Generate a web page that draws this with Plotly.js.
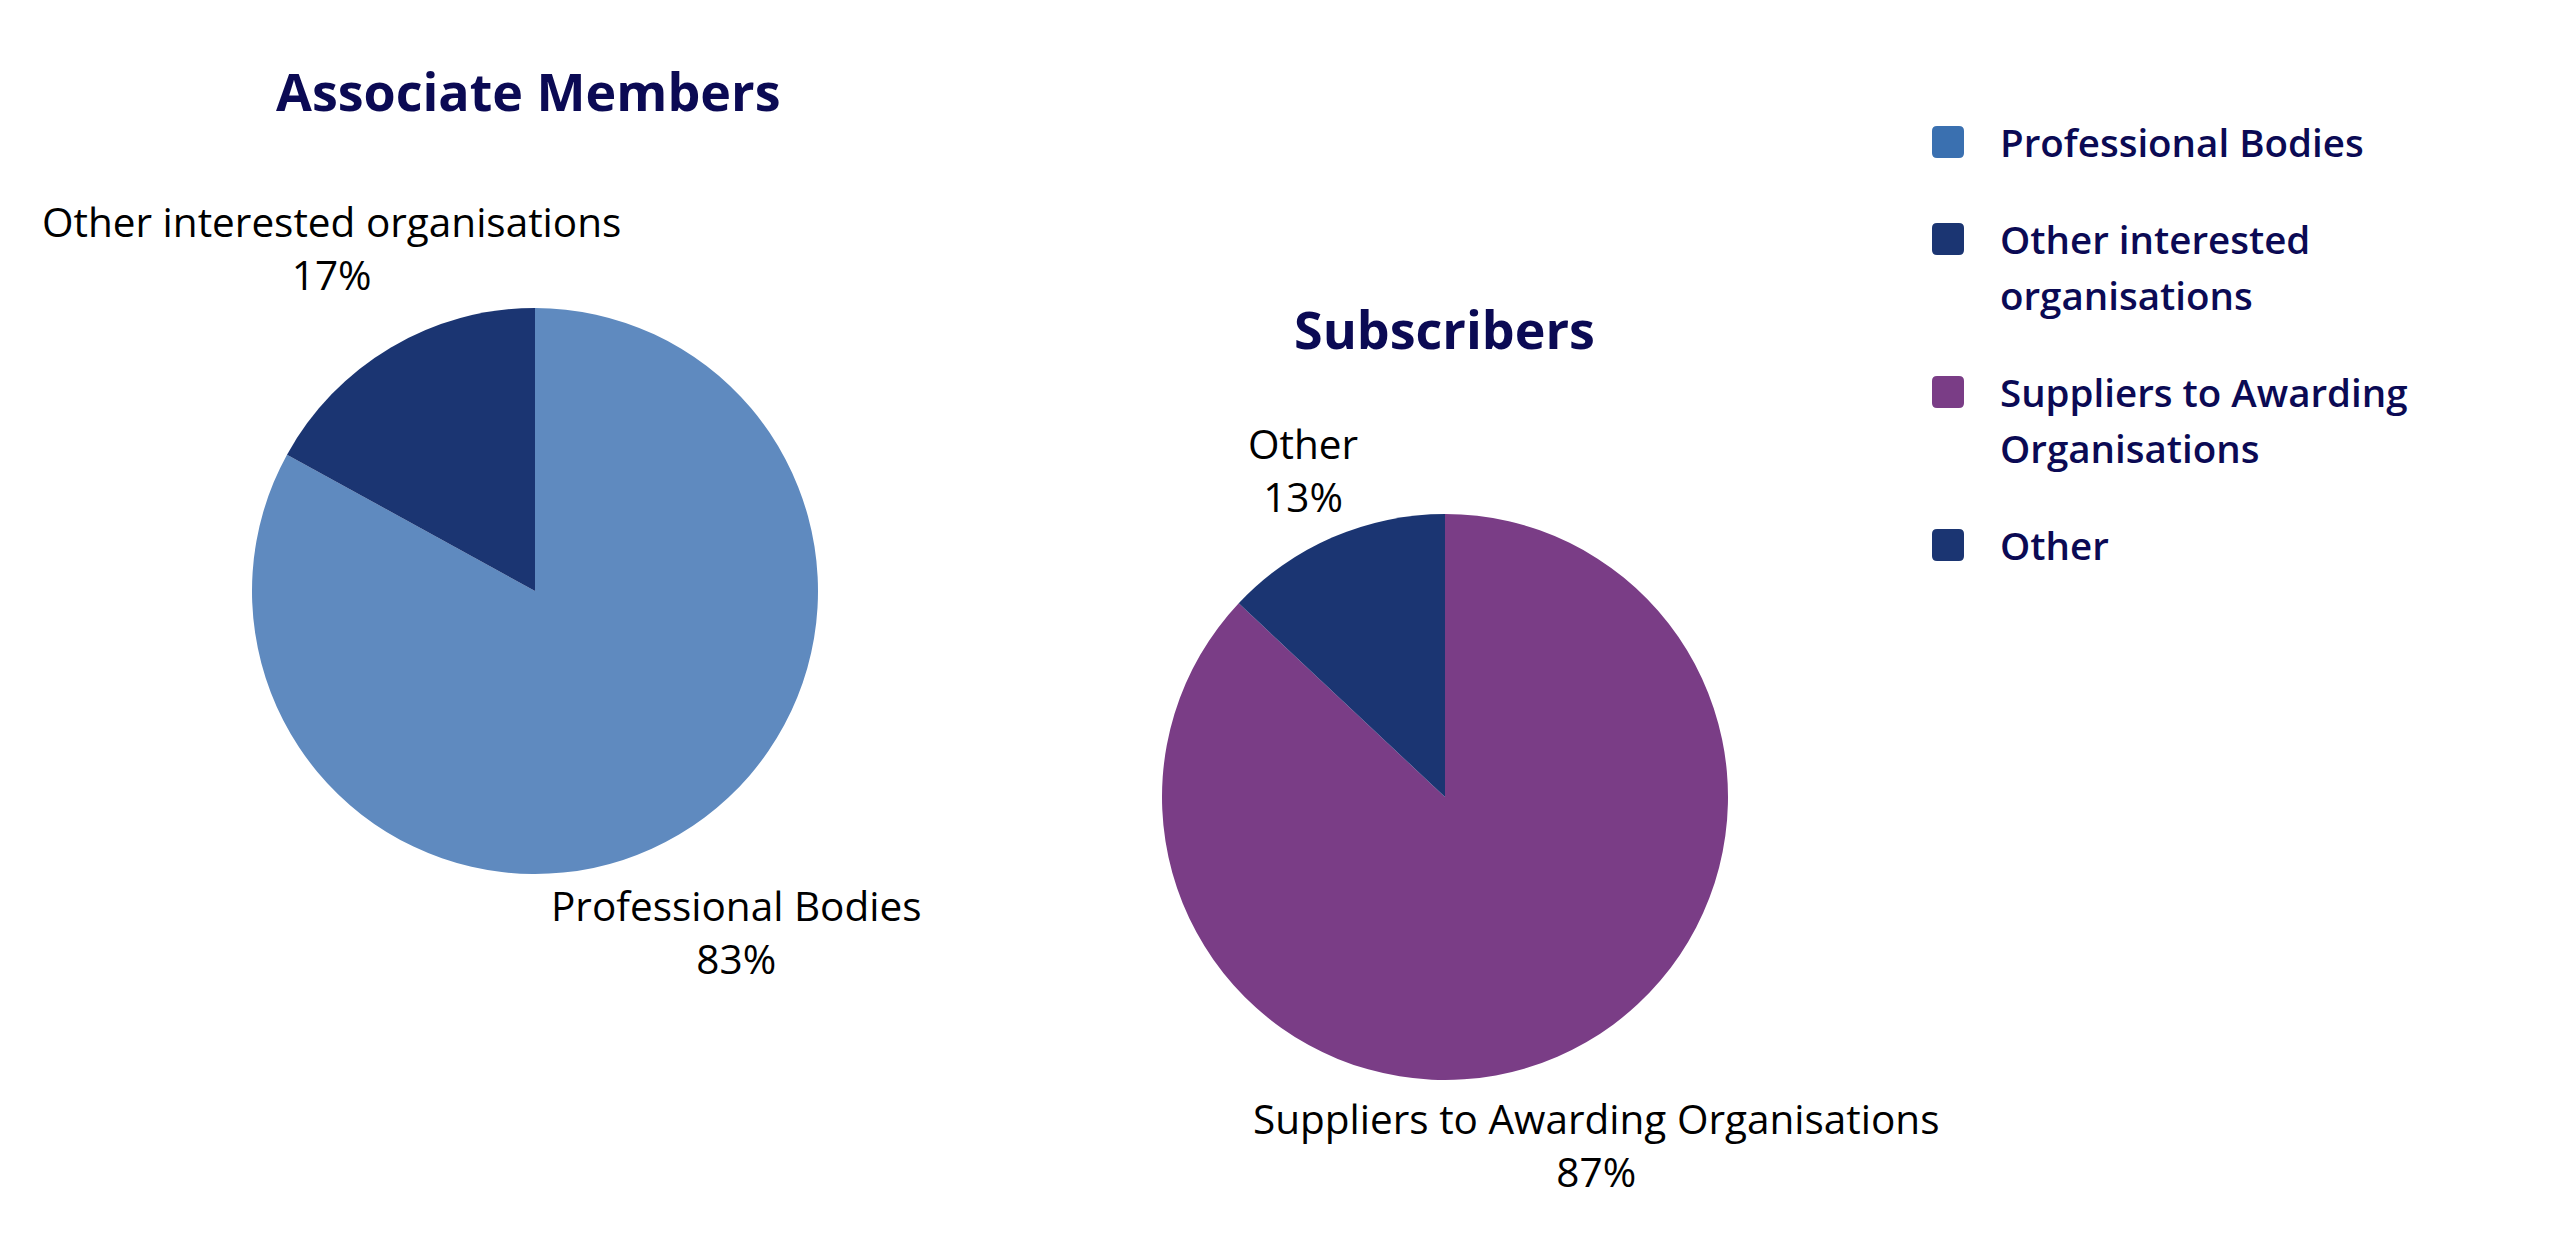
<!DOCTYPE html>
<html>
<head>
<meta charset="utf-8">
<script src="https://cdn.plot.ly/plotly-3.0.1.min.js"></script>
<style>
html, body { margin: 0; padding: 0; background: #ffffff; }
#chart { width: 2560px; height: 1233px; }
</style>
</head>
<body>
<div id="chart"></div>
<script>
// ---------- data ----------
const memberLabels = ['Professional Bodies', 'Other interested organisations'];
const memberValues = [83, 17];
const subscriberLabels = ['Suppliers to Awarding Organisations', 'Other'];
const subscriberValues = [87, 13];
const chartTitles = ['Associate Members', 'Subscribers'];
const legendLabels = ['Professional Bodies', 'Other interested organisations', 'Suppliers to Awarding Organisations', 'Other'];

// ---------- styles / layout ----------
const W = 2560, H = 1233;
const FONT = 'Open Sans, sans-serif';
const NAVY_TEXT = '#0B0A54';
const memberColors = ['#5F8ABF', '#1B3572'];
const subscriberColors = ['#7A3D86', '#1B3572'];
const legendColors = ['#3A70B0', '#1B3572', '#7A3D86', '#1B3572'];

const pieSpecs = [
  { labels: memberLabels, values: memberValues, colors: memberColors, title: chartTitles[0],
    cx: 535, cy: 591, r: 283, titleX: 528, titleY: 90, labelDist: [1.40, 1.41] },
  { labels: subscriberLabels, values: subscriberValues, colors: subscriberColors, title: chartTitles[1],
    cx: 1445, cy: 797, r: 283, titleX: 1444, titleY: 328, labelDist: [1.34, 1.26] }
];

const legendSpec = { markerX: 1948, textX: 1998, y0: 142, lineH: 56, itemGap: 41, size: 32, radius: 5, wrap: 21 };

const px = x => x / W;
const py = y => 1 - y / H;

const traces = [];
const annotations = [];
const shapes = [];

pieSpecs.forEach(s => {
  traces.push({
    type: 'pie',
    labels: s.labels,
    values: s.values,
    sort: false,
    direction: 'clockwise',
    rotation: 0,
    textinfo: 'none',
    hoverinfo: 'label+percent',
    showlegend: false,
    marker: { colors: s.colors, line: { width: 0 } },
    domain: { x: [px(s.cx - s.r), px(s.cx + s.r)], y: [py(s.cy + s.r), py(s.cy - s.r)] }
  });
  annotations.push({
    text: s.title, xref: 'paper', yref: 'paper', x: px(s.titleX), y: py(s.titleY),
    xanchor: 'center', yanchor: 'middle', showarrow: false,
    font: { family: FONT, size: 52, color: NAVY_TEXT, weight: 700 }
  });
  const total = s.values.reduce((a, b) => a + b, 0);
  let cum = 0;
  s.values.forEach((v, i) => {
    const mid = 2 * Math.PI * (cum + v / 2) / total;
    cum += v;
    const d = s.labelDist[i] * s.r;
    const lx = s.cx + d * Math.sin(mid);
    const ly = s.cy - d * Math.cos(mid);
    const pct = Math.round(v / total * 100) + '%';
    annotations.push({
      text: s.labels[i] + '<br>' + pct, xref: 'paper', yref: 'paper', x: px(lx), y: py(ly),
      xanchor: 'center', yanchor: 'middle', align: 'center', showarrow: false,
      font: { family: FONT, size: 40.5, color: '#000000' }
    });
  });
});

function wrapText(str, max) {
  const words = str.split(' ');
  const lines = [];
  let cur = '';
  words.forEach(w => {
    const next = cur ? cur + ' ' + w : w;
    if (next.length > max && cur) { lines.push(cur); cur = w; } else { cur = next; }
  });
  if (cur) lines.push(cur);
  return lines;
}

function roundedSquare(h, rr) {
  return `M ${-h + rr},${-h} L ${h - rr},${-h} Q ${h},${-h} ${h},${-h + rr} L ${h},${h - rr} Q ${h},${h} ${h - rr},${h} ` +
         `L ${-h + rr},${h} Q ${-h},${h} ${-h},${h - rr} L ${-h},${-h + rr} Q ${-h},${-h} ${-h + rr},${-h} Z`;
}

let ly = legendSpec.y0;
legendLabels.forEach((lab, i) => {
  const lines = wrapText(lab, legendSpec.wrap);
  shapes.push({
    type: 'path', xref: 'paper', yref: 'paper',
    xsizemode: 'pixel', ysizemode: 'pixel',
    xanchor: px(legendSpec.markerX), yanchor: py(ly),
    path: roundedSquare(legendSpec.size / 2, legendSpec.radius),
    fillcolor: legendColors[i], line: { width: 0 }
  });
  lines.forEach((t, j) => {
    annotations.push({
      text: t, xref: 'paper', yref: 'paper', x: px(legendSpec.textX), y: py(ly + j * legendSpec.lineH),
      xanchor: 'left', yanchor: 'middle', showarrow: false,
      font: { family: FONT, size: 38.5, color: NAVY_TEXT, weight: 600 }
    });
  });
  ly += lines.length * legendSpec.lineH + legendSpec.itemGap;
});

const layout = {
  width: W, height: H,
  margin: { l: 0, r: 0, t: 0, b: 0, pad: 0 },
  paper_bgcolor: '#ffffff', plot_bgcolor: '#ffffff',
  showlegend: false,
  annotations: annotations,
  shapes: shapes,
  font: { family: FONT }
};

Plotly.newPlot('chart', traces, layout, { displayModeBar: false, staticPlot: true });
</script>
</body>
</html>
